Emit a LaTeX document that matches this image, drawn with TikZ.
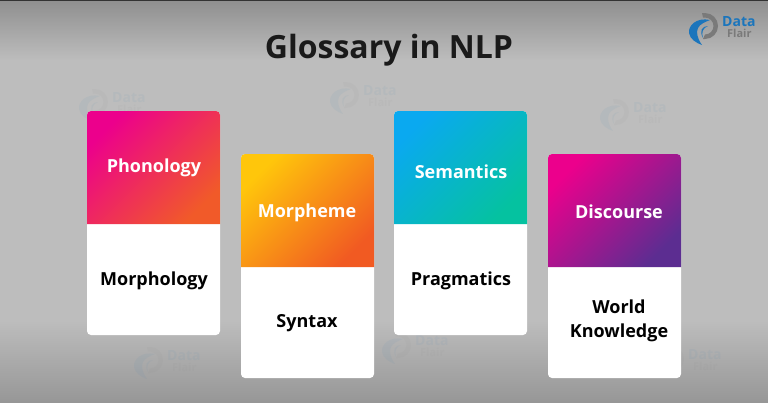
\documentclass[tikz,border=0pt]{standalone}
\usepackage{fontspec}
\setmainfont{Open Sans}
\definecolor{bg0}{HTML}{8F8F8F}
\definecolor{bg2}{HTML}{BDBDBD}
\definecolor{bg4}{HTML}{979797}
\definecolor{edge}{HTML}{333333}
\pgfdeclareverticalshading{bggrad}{100bp}{
 color(0bp)=(bg4); color(25bp)=(bg4); color(35.2bp)=(bg2); color(67.5bp)=(bg2); color(75bp)=(bg0); color(100bp)=(bg0)}
\definecolor{logoblue}{HTML}{1B75BC}
\definecolor{logogrey}{HTML}{7A7A7A}
\definecolor{inktext}{HTML}{1A1A1A}
\definecolor{ca}{HTML}{EC008C}\definecolor{cb}{HTML}{F15A29}
\definecolor{da}{HTML}{FFC60B}\definecolor{db}{HTML}{F15A22}
\definecolor{ea}{HTML}{0AA9F0}\definecolor{eb}{HTML}{05C2A0}
\definecolor{fa}{HTML}{EC008C}\definecolor{fb}{HTML}{5C2D91}
\tikzset{
 toplabel/.style={text=white,font=\bfseries\fontsize{18}{21}\selectfont,inner sep=0pt,align=center},
 botlabel/.style={text=black,font=\bfseries\fontsize{18}{24}\selectfont,inner sep=0pt,align=center},
 cardbody/.style={fill=white,rounded corners=4pt},
 titletext/.style={text=inktext,font=\bfseries\fontsize{32}{36}\selectfont,inner sep=0pt},
 logoword/.style={inner sep=0pt,font=\bfseries\fontsize{#1}{#1}\selectfont},
}
% #1 x, #2 y, #3 from colour, #4 to colour
\newcommand{\cardbox}[4]{%
 \path[cardbody] (#1,#2) rectangle ++(133,224);
 \path[rounded corners=4pt,left color=#3,right color=#4,shading angle=45]
   (#1,#2+113) -- (#1,#2) -- (#1+133,#2) [sharp corners] -- (#1+133,#2+113) -- cycle;
}
% #1 x, #2 y centre of symbol, #3 opacity, #4 name
\newcommand{\logomark}[4]{%
 \begin{scope}[shift={(#1,#2)},opacity=#3]
  \fill[logogrey] (0,-16) -- (3,-16) arc[start angle=-90,end angle=90,radius=13] -- (1,10) -- (3,5.5)
     arc[start angle=90,end angle=-90,radius=8.5] -- (1,-11.5) -- cycle;
  \fill[logoblue] (8,-9) .. controls (-6,-12) and (-14,-3) .. (-13,4)
     .. controls (-12,10) and (-6,14) .. (0,16) .. controls (-5,9) and (-6,3) .. (-4,-1)
     .. controls (-2,-5) and (3,-7) .. (8,-9) -- cycle;
  \fill[logoblue] (6,-3) .. controls (0,-3) and (-3,2) .. (1,9) .. controls (-1,3) and (1,-1) .. (6,-3) -- cycle;
  \node[logoword=14,text=logoblue,anchor=west] (#4a) at (20,-7) {Data};
  \node[logoword=11,text=logogrey,anchor=west] (#4b) at (25,4.5) {Flair};
 \end{scope}%
}
\begin{document}
\begin{tikzpicture}[x=1pt,y=-1pt]
\useasboundingbox (0,0) rectangle (768,402);
\path[shading=bggrad] (0,0) rectangle (768,402);
\fill[edge] (0,0) rectangle (768,1);
% watermarks
\logomark{92}{105}{0.05}{wa}
\logomark{343}{98}{0.05}{wb}
\logomark{613}{115}{0.05}{wc}
\logomark{147}{363}{0.05}{wd}
\logomark{395}{348}{0.05}{we}
\logomark{668}{362}{0.05}{wf}
\logomark{702}{29}{1}{main}
\node[titletext] (title) at (389,50) {Glossary in NLP};
\cardbox{87}{111}{ca}{cb}
\cardbox{241}{154}{da}{db}
\cardbox{394}{111}{ea}{eb}
\cardbox{548}{154}{fa}{fb}
\node[toplabel] (t1) at (154,168) {Phonology};
\node[toplabel] (t2) at (307,213) {Morpheme};
\node[toplabel] (t3) at (461,171.5) {Semantics};
\node[toplabel] (t4) at (619,211.5) {Discourse};
\node[botlabel] (b1) at (154,281) {Morphology};
\node[botlabel] (b2) at (307,323) {Syntax};
\node[botlabel] (b3) at (461,281) {Pragmatics};
\node[botlabel] (b4) at (619,320.5) {World\\Knowledge};
\end{tikzpicture}
\end{document}
